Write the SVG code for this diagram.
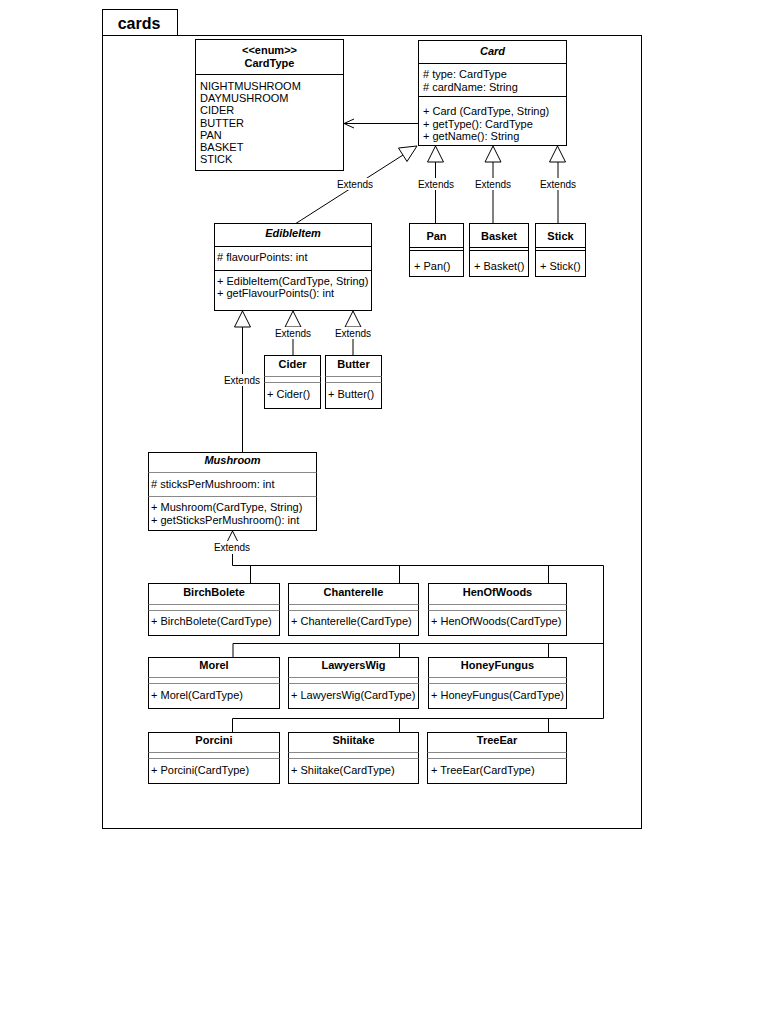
<svg xmlns="http://www.w3.org/2000/svg" width="768" height="1024" viewBox="0 0 768 1024">
<style>
text{font-family:"Liberation Sans",Arial,sans-serif;font-size:11px;fill:#000}
.t{font-weight:bold;text-anchor:middle}
.ti{font-weight:bold;font-style:italic;text-anchor:middle}
.box{fill:#fff;stroke:#000;stroke-width:1}
.div{stroke:#000;stroke-width:1}
.sep{stroke:#888;stroke-width:1}
.ln{fill:none;stroke:#000;stroke-width:1}
.tri{fill:#fff;stroke:#000;stroke-width:1}
.lbl{font-size:10px;text-anchor:middle}
.lb{fill:#fff}
</style>
<rect width="768" height="1024" fill="#fff"/>
<g id="package">
<rect x="102.5" y="9.5" width="75" height="26" class="box"/>
<rect x="102.5" y="35.5" width="539" height="793" class="box"/>
<text x="139" y="29" style="font-size:16px;font-weight:bold;text-anchor:middle">cards</text>
</g>
<g id="connectors">
<!-- Card -> CardType -->
<path class="ln" d="M418 123.5H344"/>
<path class="ln" d="M354 119L344 123.5L354 128"/>
<!-- EdibleItem -> Card -->
<path class="ln" d="M295 224L403 155"/>
<polygon class="tri" points="417,146 407,161.5 398.5,148"/>
<rect class="lb" x="336" y="178" width="38" height="12"/>
<text class="lbl" x="355" y="187.5">Extends</text>
<!-- Pan, Basket, Stick -->
<path class="ln" d="M435.5 162V224M493 162V224M558 162V224"/>
<polygon class="tri" points="435.5,146 427.5,162 443.5,162"/>
<polygon class="tri" points="493,146 485,162 501,162"/>
<polygon class="tri" points="557.5,146 549.5,162 565.5,162"/>
<rect class="lb" x="417" y="178" width="38" height="12"/>
<text class="lbl" x="436" y="187.5">Extends</text>
<rect class="lb" x="474" y="178" width="38" height="12"/>
<text class="lbl" x="493" y="187.5">Extends</text>
<rect class="lb" x="539" y="178" width="38" height="12"/>
<text class="lbl" x="558" y="187.5">Extends</text>
<!-- Cider, Butter, Mushroom -->
<path class="ln" d="M293 327V355M353 327V355M242.5 327V452"/>
<polygon class="tri" points="242.5,311 234.5,327 250.5,327"/>
<polygon class="tri" points="293,311 285,327 301,327"/>
<polygon class="tri" points="353,311 345,327 361,327"/>
<rect class="lb" x="274" y="327" width="38" height="12"/>
<text class="lbl" x="293" y="336.5">Extends</text>
<rect class="lb" x="334" y="327" width="38" height="12"/>
<text class="lbl" x="353" y="336.5">Extends</text>
<rect class="lb" x="223" y="374" width="38" height="12"/>
<text class="lbl" x="242" y="383.5">Extends</text>
<!-- Mushroom tree -->
<polygon class="tri" points="232.5,531 224.5,547 240.5,547"/>
<path class="ln" d="M232.5 547V565.5H603.5V718.5H232.5V732M233 643.5H603.5M233 643.5V657M250.5 565.5V583M399.5 565.5V583M548.5 565.5V583M399.5 643.5V657M548.5 643.5V657M399.5 718.5V732M548.5 718.5V732"/>
<rect class="lb" x="213" y="541" width="38" height="13"/>
<text class="lbl" x="232" y="551">Extends</text>
</g>
<g id="CardType">
<rect x="195.5" y="39.5" width="148" height="131" class="box"/>
<path class="div" d="M195.5 74.5H343.5"/>
<text class="t" x="269.5" y="54">&lt;&lt;enum&gt;&gt;</text>
<text class="t" x="269.5" y="67">CardType</text>
<text x="200" y="90">NIGHTMUSHROOM</text>
<text x="200" y="102">DAYMUSHROOM</text>
<text x="200" y="114">CIDER</text>
<text x="200" y="127">BUTTER</text>
<text x="200" y="139">PAN</text>
<text x="200" y="151">BASKET</text>
<text x="200" y="163">STICK</text>
</g>
<g id="Card">
<rect x="418.5" y="40.5" width="148" height="105" class="box"/>
<path class="div" d="M418.5 63.5H566.5M418.5 96.5H566.5"/>
<text class="ti" x="492.5" y="55">Card</text>
<text x="423" y="78">#  type: CardType</text>
<text x="423" y="91">#  cardName: String</text>
<text x="423" y="115">+ Card (CardType, String)</text>
<text x="423" y="128">+ getType(): CardType</text>
<text x="423" y="140">+ getName(): String</text>
</g>
<g id="Pan">
<rect x="409.5" y="223.5" width="54" height="53" class="box"/>
<path class="div" d="M409.5 247.5H463.5M409.5 250.5H463.5"/>
<text class="t" x="436.5" y="240">Pan</text>
<text x="414" y="270">+ Pan()</text>
</g>
<g id="Basket">
<rect x="469.5" y="223.5" width="59" height="53" class="box"/>
<path class="div" d="M469.5 247.5H528.5M469.5 250.5H528.5"/>
<text class="t" x="499" y="240">Basket</text>
<text x="474" y="270">+ Basket()</text>
</g>
<g id="Stick">
<rect x="535.5" y="223.5" width="50" height="53" class="box"/>
<path class="div" d="M535.5 247.5H585.5M535.5 250.5H585.5"/>
<text class="t" x="560.5" y="240">Stick</text>
<text x="540" y="270">+ Stick()</text>
</g>
<g id="EdibleItem">
<rect x="214.5" y="223.5" width="157" height="87" class="box"/>
<path class="div" d="M214.5 246.5H371.5M214.5 270.5H371.5"/>
<text class="ti" x="293" y="237">EdibleItem</text>
<text x="217" y="261">#  flavourPoints: int</text>
<text x="217" y="285">+ EdibleItem(CardType, String)</text>
<text x="217" y="297">+ getFlavourPoints(): int</text>
</g>
<g id="Cider">
<rect x="264.5" y="355.5" width="56" height="53" class="box"/>
<path class="sep" d="M264.5 376.5H320.5M264.5 382.5H320.5"/>
<text class="t" x="292.5" y="368">Cider</text>
<text x="267" y="398">+ Cider()</text>
</g>
<g id="Butter">
<rect x="325.5" y="355.5" width="56" height="53" class="box"/>
<path class="sep" d="M325.5 376.5H381.5M325.5 382.5H381.5"/>
<text class="t" x="353.5" y="368">Butter</text>
<text x="328" y="398">+ Butter()</text>
</g>
<g id="Mushroom">
<rect x="148.5" y="452.5" width="168" height="78" class="box"/>
<path class="sep" d="M148.5 472.5H316.5M148.5 496.5H316.5"/>
<text class="ti" x="232.5" y="464">Mushroom</text>
<text x="151" y="488">#  sticksPerMushroom: int</text>
<text x="151" y="511">+ Mushroom(CardType, String)</text>
<text x="151" y="524">+ getSticksPerMushroom(): int</text>
</g>
<g id="BirchBolete">
<rect x="148.5" y="583.5" width="131" height="52" class="box"/>
<path class="sep" d="M148.5 604.5H279.5M148.5 610.5H279.5"/>
<text class="t" x="214" y="596">BirchBolete</text>
<text x="151" y="625">+ BirchBolete(CardType)</text>
</g>
<g id="Chanterelle">
<rect x="288.5" y="583.5" width="130" height="52" class="box"/>
<path class="sep" d="M288.5 604.5H418.5M288.5 610.5H418.5"/>
<text class="t" x="353.5" y="596">Chanterelle</text>
<text x="291" y="625">+ Chanterelle(CardType)</text>
</g>
<g id="HenOfWoods">
<rect x="428.5" y="583.5" width="138" height="52" class="box"/>
<path class="sep" d="M428.5 604.5H566.5M428.5 610.5H566.5"/>
<text class="t" x="497.5" y="596">HenOfWoods</text>
<text x="431" y="625">+ HenOfWoods(CardType)</text>
</g>
<g id="Morel">
<rect x="148.5" y="657.5" width="131" height="51" class="box"/>
<path class="sep" d="M148.5 677.5H279.5M148.5 683.5H279.5"/>
<text class="t" x="214" y="669">Morel</text>
<text x="151" y="699">+ Morel(CardType)</text>
</g>
<g id="LawyersWig">
<rect x="288.5" y="657.5" width="130" height="51" class="box"/>
<path class="sep" d="M288.5 677.5H418.5M288.5 683.5H418.5"/>
<text class="t" x="353.5" y="669">LawyersWig</text>
<text x="291" y="699">+ LawyersWig(CardType)</text>
</g>
<g id="HoneyFungus">
<rect x="428.5" y="657.5" width="138" height="51" class="box"/>
<path class="sep" d="M428.5 677.5H566.5M428.5 683.5H566.5"/>
<text class="t" x="497.5" y="669">HoneyFungus</text>
<text x="431" y="699">+ HoneyFungus(CardType)</text>
</g>
<g id="Porcini">
<rect x="148.5" y="732.5" width="131" height="51" class="box"/>
<path class="sep" d="M148.5 752.5H279.5M148.5 758.5H279.5"/>
<text class="t" x="214" y="744">Porcini</text>
<text x="151" y="774">+ Porcini(CardType)</text>
</g>
<g id="Shiitake">
<rect x="288.5" y="732.5" width="130" height="51" class="box"/>
<path class="sep" d="M288.5 752.5H418.5M288.5 758.5H418.5"/>
<text class="t" x="353.5" y="744">Shiitake</text>
<text x="291" y="774">+ Shiitake(CardType)</text>
</g>
<g id="TreeEar">
<rect x="427.5" y="732.5" width="139" height="51" class="box"/>
<path class="sep" d="M427.5 752.5H566.5M427.5 758.5H566.5"/>
<text class="t" x="497" y="744">TreeEar</text>
<text x="431" y="774">+ TreeEar(CardType)</text>
</g>
</svg>
